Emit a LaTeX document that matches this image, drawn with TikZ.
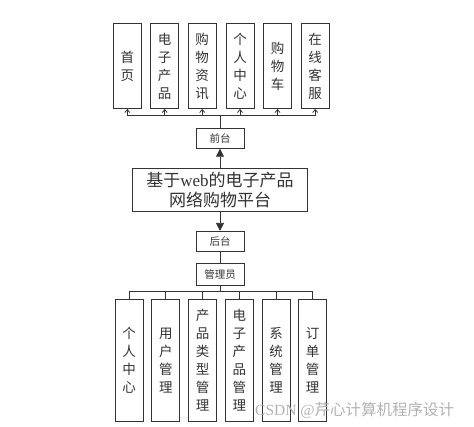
\documentclass[tikz,border=0pt]{standalone}
\usepackage{fontspec}
\setmainfont{Liberation Serif}
\newfontfamily\cjk{Noto Sans CJK SC}
\usetikzlibrary{arrows.meta}
\definecolor{inkgray}{HTML}{333333}
\tikzset{
  colbox/.style={draw=inkgray, line width=0.8pt, text=inkgray, minimum width=28, inner sep=0pt,
    align=center, font=\cjk\fontsize{13.5}{18}\selectfont},
  smallbox/.style={draw=inkgray, line width=0.8pt, text=inkgray, minimum width=48, minimum height=20,
    inner sep=0pt, font=\cjk\fontsize{10.5}{12}\selectfont},
  link/.style={draw=inkgray, line width=0.8pt},
  openarrow/.style={link, -{Straight Barb[length=3pt,width=5pt]}},
  fullarrow/.style={link, -{Triangle[length=8pt,width=8pt]}}
}
\begin{document}
\begin{tikzpicture}[x=1pt,y=1pt,yscale=-1]
  \useasboundingbox[fill=white] (0,0) rectangle (474,426);
  % front end modules
  \node[colbox, minimum height=85] (t1) at (127.3,66) {首\\页};
  \node[colbox, minimum height=85] (t2) at (164.7,66) {电\\子\\产\\品};
  \node[colbox, minimum height=85] (t3) at (202.2,66) {购\\物\\资\\讯};
  \node[colbox, minimum height=85] (t4) at (240,66) {个\\人\\中\\心};
  \node[colbox, minimum height=85] (t5) at (277.5,66) {购\\物\\车};
  \node[colbox, minimum height=85] (t6) at (315.2,66) {在\\线\\客\\服};
  \node[smallbox] (qt) at (220,138.3) {前台};
  % platform
  \node[draw=inkgray, line width=0.8pt, text=inkgray, minimum width=174.6, minimum height=42.7,
    inner sep=0pt, align=center, font=\fontsize{17}{20}\selectfont] (sys) at (220,189.7)
    {{\cjk 基于}web{\cjk 的电子产品}\\{\cjk 网络购物平台}};
  \node[smallbox] (ht) at (220,241.3) {后台};
  \node[smallbox, minimum height=21.7] (adm) at (220,274.2) {管理员};
  % back end modules
  \node[colbox, minimum height=122.7] (b1) at (129.2,360.4) {个\\人\\中\\心};
  \node[colbox, minimum height=122.7] (b2) at (165.8,360.4) {用\\户\\管\\理};
  \node[colbox, minimum height=122.7] (b3) at (202.5,360.4) {产\\品\\类\\型\\管\\理};
  \node[colbox, minimum height=122.7] (b4) at (239.3,360.4) {电\\子\\产\\品\\管\\理};
  \node[colbox, minimum height=122.7] (b5) at (276,360.4) {系\\统\\管\\理};
  \node[colbox, minimum height=122.7] (b6) at (312.5,360.4) {订\\单\\管\\理};
  % connectors
  \coordinate (fbus) at (220,115.7);
  \coordinate (bbus) at (220,291.7);
  \draw[link] (qt.north) -- (fbus);
  \draw[link] (fbus -| t1) -- (fbus -| t6);
  \foreach \i in {1,...,6}
    \draw[openarrow] (fbus -| t\i) -- (t\i.south);
  \draw[fullarrow] (sys.north) -- (qt.south);
  \draw[fullarrow] (sys.south) -- (ht.north);
  \draw[link] (ht.south) -- (adm.north);
  \draw[link] (adm.south) -- (bbus);
  \draw[link] (bbus -| b1) -- (bbus -| b6);
  \foreach \i in {1,...,6}
    \draw[link] (bbus -| b\i) -- (b\i.north);
  % watermark
  \node[text=gray!60, font=\fontsize{15.5}{17}\selectfont, anchor=west, inner sep=0pt] (mark) at (255,410)
    {CSDN @{\cjk 芹心计算机程序设计}};
\end{tikzpicture}
\end{document}
